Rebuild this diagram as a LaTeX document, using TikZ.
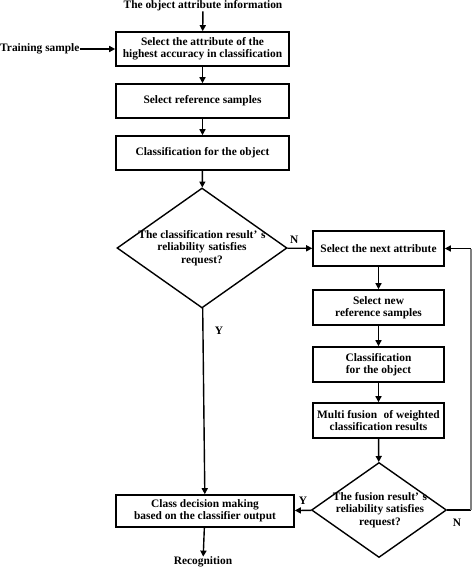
\documentclass[tikz,border=0pt]{standalone}
\usepackage{fontspec}
\setmainfont{Liberation Serif}
\usepackage{tikz}
\usetikzlibrary{positioning, arrows.meta, shapes.geometric}

\begin{document}
\begin{tikzpicture}[
  x=1pt, y=-1pt,
  font=\bfseries\fontsize{11.4}{12.4}\selectfont,
  box/.style={draw, line width=1.6pt, minimum height=34pt,
              minimum width=173pt, align=center, inner sep=1pt},
  sbox/.style={draw, line width=1.6pt, minimum height=35pt,
               minimum width=131pt, align=center, inner sep=1pt},
  cond/.style={draw, diamond, line width=1.4pt, inner sep=0pt},
  lbl/.style={align=center, inner sep=0pt},
  arr/.style={-{Triangle[length=6pt, width=6pt]}, line width=1.4pt}
]
\useasboundingbox (0,0) rectangle (474,569);
% main column
\node[lbl] (info) at (203,6) {The object attribute information};
\node[box] (select) at (202.5,49) {Select the attribute of the\\highest accuracy in classification};
\node[lbl, anchor=west] (train) at (0,49) {Training sample};
\node[box] (refs) at (202.5,101) {Select reference samples};
\node[box] (classify) at (202.5,153) {Classification for the object};
\node[cond, minimum width=170pt, minimum height=120pt] (check) at (202,248) {};
\node[lbl] (checktxt) at (202,248) {The classification result’\,\,s\\reliability\,\,satisfies\\request?};
\draw[arr] (info) -- (select);
\draw[arr] (train) -- (select);
\draw[arr] (select) -- (refs);
\draw[arr] (refs) -- (classify);
\draw[arr] (classify) -- (check);
% right column
\node[sbox] (next) at (378.5,248.5) {Select the next attribute};
\node[sbox] (newrefs) at (378.5,307.5) {Select new\\reference samples};
\node[sbox] (classify2) at (378.5,364.5) {Classification\\for the object};
\node[sbox] (fusion) at (378.5,420.5) {Multi fusion\,\, of weighted\\classification results};
\node[cond, minimum width=135pt, minimum height=95pt] (check2) at (379,510) {};
\node[lbl] (check2txt) at (380,510) {The fusion result’\,\,s\\reliability satisfies\\request?};
\draw[arr] (check) -- node[above left=1pt and 0pt, pos=0.6] (n1) {N} (next);
\draw[arr] (next) -- (newrefs);
\draw[arr] (newrefs) -- (classify2);
\draw[arr] (classify2) -- (fusion);
\draw[arr] (fusion) -- (check2);
% loop back
\coordinate (loop) at (471,510);
\coordinate (loop2) at (471,248.5);
\draw[line width=1.4pt] (check2.east) -- (loop);
\draw[line width=1.4pt, gray] (loop) -- (loop2);
\draw[arr] (loop2) -- (next.east);
\node (n2) at (457,523) {N};
% decision
\node[box, minimum width=178pt, minimum height=32pt] (decide) at (205,511) {Class decision making\\based on the classifier output};
\draw[arr] (check) -- node[pos=0.12, right=8pt] (y1) {Y} (decide);
\draw[arr] (check2) -- node[above=2pt] (y2) {Y} (decide);
\node[lbl] (recog) at (203,562) {Recognition};
\draw[arr] (decide) -- (recog);
\end{tikzpicture}
\end{document}
